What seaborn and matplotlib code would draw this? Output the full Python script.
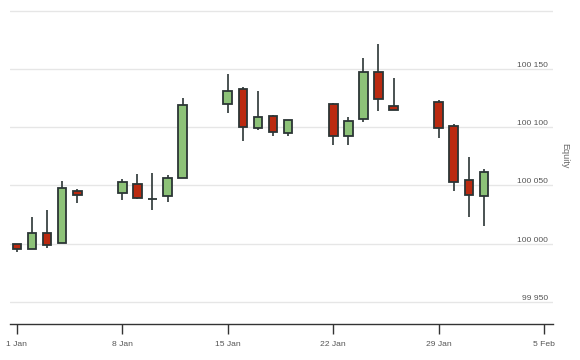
import matplotlib
matplotlib.use("Agg")
import matplotlib.pyplot as plt
import matplotlib.dates as mdates
import pandas as pd
import seaborn as sns

# daily equity candles (weekdays only)
dates = ["2018-01-01", "2018-01-02", "2018-01-03", "2018-01-04", "2018-01-05",
         "2018-01-08", "2018-01-09", "2018-01-10", "2018-01-11", "2018-01-12",
         "2018-01-15", "2018-01-16", "2018-01-17", "2018-01-18", "2018-01-19",
         "2018-01-22", "2018-01-23", "2018-01-24", "2018-01-25", "2018-01-26",
         "2018-01-29", "2018-01-30", "2018-01-31", "2018-02-01"]
open_ = [99999.7, 99995.5, 100009.2, 100000.6, 100045.2,
         100043.5, 100051.2, 100038.0, 100040.9, 100056.3,
         100119.7, 100132.6, 100099.2, 100109.5, 100094.9,
         100119.7, 100092.3, 100106.9, 100147.2, 100118.0,
         100121.5, 100100.9, 100054.6, 100040.9]
close = [99995.5, 100009.2, 99998.9, 100047.7, 100041.7,
         100052.9, 100039.2, 100038.0, 100056.3, 100118.9,
         100130.9, 100100.0, 100108.6, 100095.7, 100106.0,
         100092.3, 100105.2, 100147.2, 100124.0, 100114.6,
         100099.2, 100053.1, 100041.7, 100061.5]
high = [100000.0, 100022.5, 100029.1, 100054.0, 100046.9,
        100055.5, 100059.7, 100060.6, 100058.9, 100125.1,
        100145.7, 100134.3, 100131.1, 100110.3, 100106.0,
        100120.6, 100108.9, 100159.4, 100171.4, 100142.3,
        100123.2, 100102.6, 100074.3, 100064.0]
low = [99992.5, 99995.5, 99996.3, 100000.6, 100034.9,
       100037.5, 100038.0, 100028.5, 100035.4, 100056.3,
       100112.5, 100088.5, 100097.5, 100092.3, 100092.3,
       100084.9, 100084.9, 100104.8, 100114.3, 100114.6,
       100090.3, 100045.2, 100022.9, 100014.8]

y_ticks = [99950, 100000, 100050, 100100, 100150, 100200]
x_ticks = ["2018-01-01", "2018-01-08", "2018-01-15", "2018-01-22", "2018-01-29", "2018-02-05"]

df = pd.DataFrame({"date": pd.to_datetime(dates), "open": open_, "close": close,
                   "high": high, "low": low})
df["up"] = df["close"] >= df["open"]
df["bottom"] = df[["open", "close"]].min(axis=1)
df["height"] = (df["close"] - df["open"]).abs()

sns.set_theme(style="white")
plt.rcParams["font.family"] = ["Liberation Sans", "DejaVu Sans"]

green = "#8dc278"
red = "#bb2a10"
edge = "#2b3535"

fig = plt.figure(figsize=(5.8, 3.6), dpi=100)
ax = fig.add_axes([10 / 580, 36 / 360, 543 / 580, 314 / 360])

# wicks
ax.vlines(df["date"], df["low"], df["high"], color=edge, lw=1.2, zorder=2)
# bodies
ax.bar(df["date"], df["height"], bottom=df["bottom"], width=0.58,
       color=[green if u else red for u in df["up"]],
       edgecolor=edge, linewidth=1.3, zorder=3)

ax.set_xlim(pd.Timestamp("2018-01-01") - pd.Timedelta(hours=11),
            pd.Timestamp("2018-02-05") + pd.Timedelta(hours=14))
ax.set_ylim(99931, 100200.6)

ax.set_yticks(y_ticks)
ax.set_yticklabels([f"{v:,}".replace(",", " ") if v < 100200 else "" for v in y_ticks])
ax.yaxis.tick_right()
ax.tick_params(axis="y", length=0, pad=-3.8, labelsize=6.1, labelcolor="#555555")
for lbl in ax.get_yticklabels():
    lbl.set_horizontalalignment("right")
    lbl.set_verticalalignment("bottom")
ax.grid(axis="y", color="#e6e6e6", lw=1, zorder=0)

ax.set_xticks(pd.to_datetime(x_ticks))
ax.xaxis.set_major_formatter(mdates.DateFormatter("%-d %b"))
ax.tick_params(axis="x", length=7, width=1, color="#333333", pad=5,
               labelsize=6.1, labelcolor="#555555", direction="out", bottom=True)

for s in ["top", "left", "right"]:
    ax.spines[s].set_visible(False)
ax.spines["bottom"].set_color("#333333")
ax.spines["bottom"].set_linewidth(1)

ax.set_ylabel("Equity", rotation=-90, fontsize=6.5, color="#666666")
ax.yaxis.set_label_position("right")
ax.yaxis.set_label_coords(1.03, 0.535)

fig.savefig("out.png", dpi=100)
